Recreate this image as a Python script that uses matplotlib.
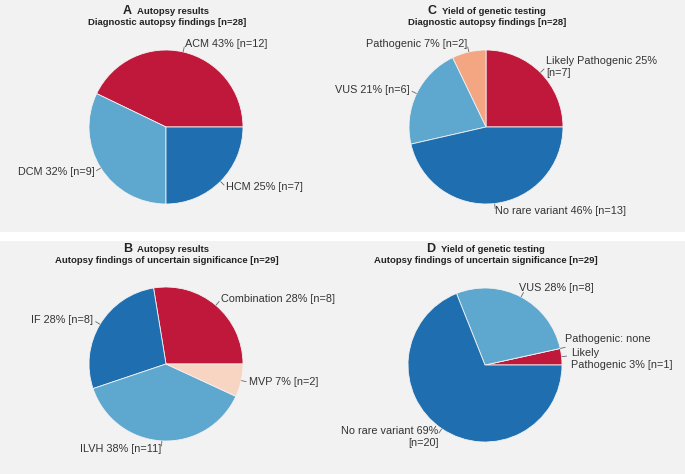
import numpy as np
import matplotlib.pyplot as plt
from matplotlib.patches import Rectangle

W, H = 685, 474
RED = '#c0183a'
DARK = '#1f6fb0'
LIGHT = '#5ea8cf'
SALMON = '#f4a582'
PEACH = '#f8d4c2'

# Panel A - autopsy results, diagnostic findings
a_counts = [12, 9, 7]
a_labels = ['ACM 43% [n=12]', 'DCM 32% [n=9]', 'HCM 25% [n=7]']
a_colors = [RED, LIGHT, DARK]

# Panel B - autopsy results, uncertain significance
b_counts = [8, 8, 11, 2]
b_labels = ['Combination 28% [n=8]', 'IF 28% [n=8]', 'ILVH 38% [n=11]', 'MVP 7% [n=2]']
b_colors = [RED, DARK, LIGHT, PEACH]

# Panel C - genetic yield, diagnostic findings
c_counts = [7, 2, 6, 13]
c_labels = ['Likely Pathogenic 25%\n[n=7]', 'Pathogenic 7% [n=2]', 'VUS 21% [n=6]',
            'No rare variant 46% [n=13]']
c_colors = [RED, SALMON, LIGHT, DARK]

# Panel D - genetic yield, uncertain significance
d_counts = [1, 0, 8, 20]
d_labels = ['Likely\nPathogenic 3% [n=1]', 'Pathogenic: none', 'VUS 28% [n=8]',
            'No rare variant 69%\n[n=20]']
d_colors = [RED, SALMON, LIGHT, DARK]

panels = [
    # letter, title, subtitle, counts, labels, colors, centre (px from top-left),
    # label nudges in px (dx right, dy down)
    ('A', 'Autopsy results', 'Diagnostic autopsy findings [n=28]',
     a_counts, a_labels, a_colors, (166, 127), [(0, 0)] * 3),
    ('C', 'Yield of genetic testing', 'Diagnostic autopsy findings [n=28]',
     c_counts, c_labels, c_colors, (486, 127), [(0, 0)] * 4),
    ('B', 'Autopsy results', 'Autopsy findings of uncertain significance [n=29]',
     b_counts, b_labels, b_colors, (166, 364), [(0, 0)] * 4),
    ('D', 'Yield of genetic testing', 'Autopsy findings of uncertain significance [n=29]',
     d_counts, d_labels, d_colors, (485, 365), [(2, 3), (-3, -8), (-6, -2.5), (1, 2)]),
]

R = 77

plt.rcParams['font.family'] = ['Liberation Sans', 'DejaVu Sans']
fig = plt.figure(figsize=(W / 100, H / 100), dpi=100)
fig.patch.set_facecolor('white')
ax = fig.add_axes([0, 0, 1, 1])
ax.set_xlim(0, W)
ax.set_ylim(0, H)
ax.axis('off')

# grey panel bands
ax.add_patch(Rectangle((0, H - 232), W, 232, facecolor='#f2f2f2', edgecolor='none', zorder=0))
ax.add_patch(Rectangle((0, 0), W, H - 241, facecolor='#f2f2f2', edgecolor='none', zorder=0))

for letter, title, subtitle, counts, labels, colors, (cx, cy), nudges in panels:
    cyd = H - cy
    wedges, _ = ax.pie(counts, colors=colors, center=(cx, cyd), radius=R,
                       startangle=0, counterclock=True, frame=True,
                       wedgeprops=dict(edgecolor='#f2f2f2', linewidth=0.6))
    for w, lab, (dx, dy) in zip(wedges, labels, nudges):
        ang = np.deg2rad((w.theta1 + w.theta2) / 2)
        c, s = np.cos(ang), np.sin(ang)
        # short leader line from the rim outwards
        ax.plot([cx + R * c, cx + 1.07 * R * c], [cyd + R * s, cyd + 1.07 * R * s],
                color='#666666', lw=0.6, solid_capstyle='butt', zorder=3)
        tx, ty = cx + 1.1 * R * c + dx, cyd + 1.1 * R * s - dy
        ax.text(tx, ty, lab, ha='left' if c > 0 else 'right', va='center',
                fontsize=7.8, color='#333333', linespacing=1.3)

    top = 11 if cy < 237 else 249
    t = ax.text(cx + 7.5, H - top, title, ha='center', va='center',
                fontsize=6.8, fontweight='bold', color='#222222')
    ax.annotate(letter, xy=(0, 0.5), xycoords=t, xytext=(-4, 0),
                textcoords='offset points', ha='right', va='center',
                fontsize=9, fontweight='bold', color='#222222')
    ax.text(cx + 1, H - top - 11.5, subtitle, ha='center', va='center',
            fontsize=6.8, fontweight='bold', color='#222222')

ax.set_xlim(0, W)
ax.set_ylim(0, H)
ax.set_aspect('auto')
fig.savefig('out.png', dpi=100, facecolor='white')
